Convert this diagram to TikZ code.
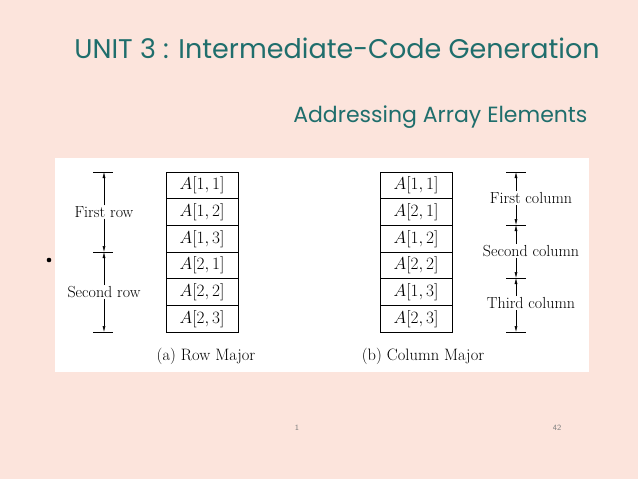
\documentclass[tikz,border=0pt]{standalone}
\usepackage{fontspec}
\newfontfamily\pop{Poppins}
\usetikzlibrary{arrows.meta}
\definecolor{bg}{HTML}{FCE4DC}
\definecolor{teal1}{HTML}{1F6E6C}
\tikzset{
  cell/.style={draw, line width=0.6pt, minimum width=72pt, minimum height=26.7pt, inner sep=0pt, font=\fontsize{16.5}{16.5}\selectfont},
  lab/.style={font=\fontsize{16}{16}\selectfont, inner sep=1pt, fill=white},
  dim/.style={line width=0.5pt, -{Latex[length=6pt,width=3pt]}},
  tick/.style={line width=0.6pt}
}
\begin{document}
\begin{tikzpicture}[x=1pt,y=-1pt]
\fill[bg] (0,0) rectangle (638,479);
\useasboundingbox (0,0) rectangle (638,479);
\node[teal1, font=\pop\fontsize{27}{27}\selectfont, anchor=center] (title) at (337,48) {UNIT 3 : Intermediate-Code Generation};
\node[teal1, font=\pop\fontsize{22}{22}\selectfont, anchor=east] (sub) at (591,117) {Addressing Array Elements};
\fill[white] (55,158) rectangle (589,372);
\fill (49,260) circle (2.3);
% row major
\foreach \t [count=\i from 0] in {{A[1,1]},{A[1,2]},{A[1,3]},{A[2,1]},{A[2,2]},{A[2,3]}}
  \node[cell] (r\i) at (202,185.3+26.7*\i) {$\t$};
\foreach \t [count=\i from 0] in {{A[1,1]},{A[2,1]},{A[1,2]},{A[2,2]},{A[1,3]},{A[2,3]}}
  \node[cell] (c\i) at (416,185.3+26.7*\i) {$\t$};
% row arrows
\coordinate (rt0) at (104,172); \coordinate (rt1) at (104,252); \coordinate (rt2) at (104,332);
\draw[tick] (93,172) -- (113,172); \draw[tick] (93,252) -- (113,252); \draw[tick] (93,332) -- (113,332);
\node[lab] (fr) at (104,212) {First row};
\node[lab] (sr) at (104,292) {Second row};
\draw[dim] (fr.north) -- (rt0);
\draw[dim] (fr.south) -- (rt1);
\draw[dim] (sr.north) -- (rt1);
\draw[dim] (sr.south) -- (rt2);
% column arrows
\coordinate (ct0) at (516,172); \coordinate (ct1) at (516,225); \coordinate (ct2) at (516,278); \coordinate (ct3) at (516,332);
\foreach \y in {172,225,278,332} \draw[tick] (506,\y) -- (526,\y);
\node[lab] (fc) at (531,198) {First column};
\node[lab] (sc) at (531,251) {Second column};
\node[lab] (tc) at (531,303) {Third column};
\foreach \n/\a/\b in {fc/ct0/ct1, sc/ct1/ct2, tc/ct2/ct3}{
  \draw[dim] (\n.north -| ct0) -- (\a);
  \draw[dim] (\n.south -| ct0) -- (\b);
}
\node[font=\fontsize{16.5}{16.5}\selectfont] (ca) at (206,356) {(a) Row Major};
\node[font=\fontsize{16.5}{16.5}\selectfont] (cb) at (423,356) {(b) Column Major};
\node[gray, font=\sffamily\fontsize{8}{8}\selectfont] (p1) at (297,428) {1};
\node[gray, font=\sffamily\fontsize{8}{8}\selectfont] (p2) at (557,428) {42};
\end{tikzpicture}
\end{document}
